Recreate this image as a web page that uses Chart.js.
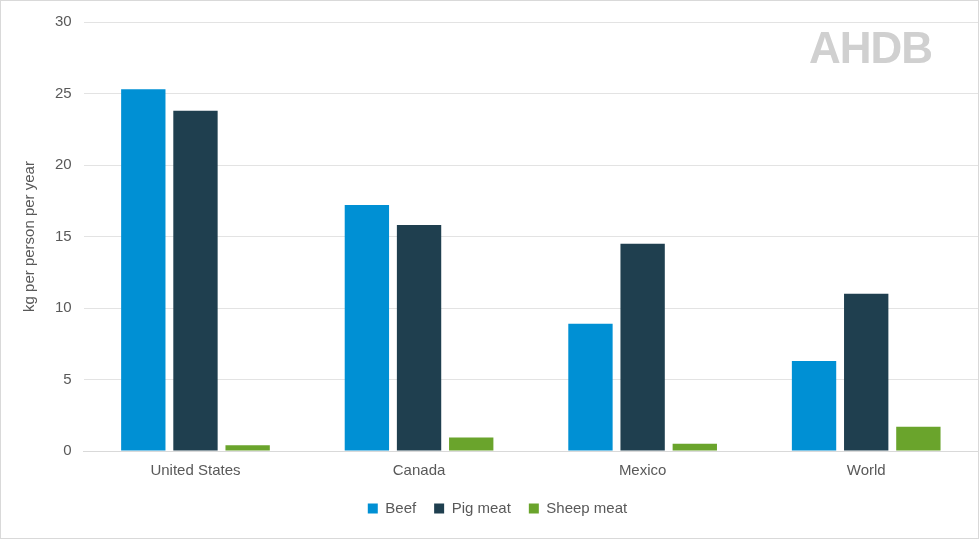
<!DOCTYPE html>
<html>
<head>
<script src="https://cdn.jsdelivr.net/npm/chart.js@4"></script>
<style>
  body { margin: 0; background: #fff; }
  #wrap { width: 977px; height: 537px; border: 1px solid #d9d9d9; position: relative; }
  #logo { position: absolute; right: 46px; top: 22px; font: bold 44px 'Liberation Sans', Arial, sans-serif; color: #d0d0d0; letter-spacing: -1px; }
</style>
</head>
<body>
<div id="wrap">
  <canvas id="chart" width="977" height="537"></canvas>
  <div id="logo">AHDB</div>
</div>
<script>
'use strict';

const categories = ['United States', 'Canada', 'Mexico', 'World'];
const beef = [25.3, 17.2, 8.9, 6.3];
const pigMeat = [23.8, 15.8, 14.5, 11.0];
const sheepMeat = [0.4, 0.95, 0.5, 1.7];

const font = {family: "'Liberation Sans', Arial, sans-serif", size: 15};

new Chart(document.getElementById('chart'), {
  type: 'bar',
  data: {
    labels: categories,
    datasets: [
      {label: 'Beef', data: beef, backgroundColor: '#0090d4'},
      {label: 'Pig meat', data: pigMeat, backgroundColor: '#1f3f4f'},
      {label: 'Sheep meat', data: sheepMeat, backgroundColor: '#6aa42c'}
    ]
  },
  options: {
    responsive: false,
    animation: false,
    layout: {padding: {top: -2, right: 0, left: 16, bottom: 12}},
    datasets: {bar: {categoryPercentage: 0.7, barPercentage: 0.85}},
    scales: {
      x: {
        grid: {display: false},
        border: {color: '#d9d9d9'},
        ticks: {color: '#595959', font: font}
      },
      y: {
        min: 0, max: 30,
        ticks: {stepSize: 5, color: '#595959', font: font, padding: 12},
        grid: {color: '#e3e3e3', drawTicks: false},
        border: {display: false},
        title: {display: true, text: 'kg per person per year', color: '#595959', font: font}
      }
    },
    plugins: {
      legend: {
        position: 'bottom',
        labels: {color: '#595959', font: font, boxWidth: 10, boxHeight: 10, padding: 18}
      },
      tooltip: {enabled: false}
    }
  }
});
</script>
</body>
</html>
